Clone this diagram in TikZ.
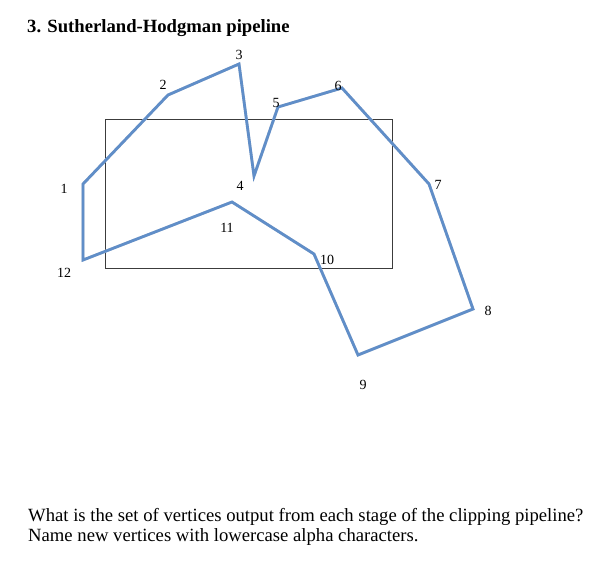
\documentclass[tikz,border=0pt]{standalone}
\usepackage{fontspec}
\setmainfont{Liberation Serif}
\definecolor{polyblue}{RGB}{96,142,200}
\definecolor{polyshadow}{RGB}{150,160,175}
\definecolor{rectgray}{RGB}{60,60,60}
\begin{document}
\begin{tikzpicture}[x=1pt,y=-1pt,
  vlabel/.style={inner sep=0pt,font=\fontsize{14}{16}\selectfont},
  vtx/.style={coordinate},
  poly/.style={draw=polyblue,line width=2.8pt,line join=miter},
  polyshade/.style={draw=polyshadow!50,line width=2.8pt,line join=miter},
  cliprect/.style={draw=rectgray,line width=0.9pt},
  bodytext/.style={anchor=base west,inner sep=0pt,font=\fontsize{18.67}{21}\selectfont}]
\useasboundingbox (0,0) rectangle (608,576);
% title
\node[bodytext,font=\fontsize{18.67}{21}\selectfont\bfseries] (title) at (27,32) {3. Sutherland-Hodgman pipeline};
% clip window
\draw[cliprect] (105,119) rectangle (392,268);
% vertices
\coordinate (v1) at (83,184);
\coordinate (v2) at (168,95);
\coordinate (v3) at (239,64);
\coordinate (v4) at (254,176);
\coordinate (v5) at (278,107);
\coordinate (v6) at (342,88);
\coordinate (v7) at (429,184);
\coordinate (v8) at (473,309);
\coordinate (v9) at (358,355);
\coordinate (v10) at (314,254);
\coordinate (v11) at (232,202);
\coordinate (v12) at (83,260);
% shadow
\begin{scope}[shift={(1,1.5)}]
\draw[polyshade] (v1) -- (v2) -- (v3) -- (v4) -- (v5) -- (v6) -- (v7) -- (v8) -- (v9) -- (v10) -- (v11) -- (v12) -- cycle;
\end{scope}
\draw[poly] (v1) -- (v2) -- (v3) -- (v4) -- (v5) -- (v6) -- (v7) -- (v8) -- (v9) -- (v10) -- (v11) -- (v12) -- cycle;
% labels
\node[vlabel] (l1) at (64,189) {1};
\node[vlabel] (l2) at (163,85) {2};
\node[vlabel] (l3) at (239,55) {3};
\node[vlabel] (l4) at (240,186) {4};
\node[vlabel] (l5) at (276,103) {5};
\node[vlabel] (l6) at (338,86) {6};
\node[vlabel] (l7) at (438,185) {7};
\node[vlabel] (l8) at (488,311) {8};
\node[vlabel] (l9) at (363,385) {9};
\node[vlabel] (l10) at (327,260) {10};
\node[vlabel] (l11) at (227,228) {11};
\node[vlabel] (l12) at (64,273) {12};
% question
\node[bodytext] (q1) at (28,521) {What is the set of vertices output from each stage of the clipping pipeline?};
\node[bodytext] (q2) at (28,541.5) {Name new vertices with lowercase alpha characters.};
\end{tikzpicture}
\end{document}
